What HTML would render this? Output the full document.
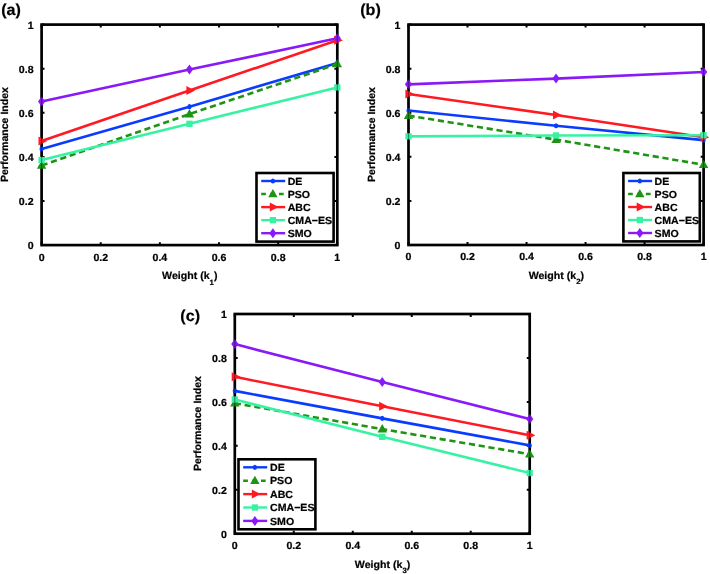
<!DOCTYPE html>
<html><head><meta charset="utf-8"><title>Performance Index</title>
<style>
html,body{margin:0;padding:0;background:#fff;}
body{width:710px;height:574px;overflow:hidden;}
svg{display:block;filter:blur(0.45px);}
text{font-family:'Liberation Sans', Arial, Helvetica, sans-serif;font-weight:bold;fill:#000;stroke:#000;stroke-width:0.22px;text-rendering:geometricPrecision;}
.t{font-size:10.4px;}
.l{font-size:10.4px;}
.k{font-size:10.4px;}
.g{font-size:15.8px;}
</style></head><body>
<svg width="710" height="574" viewBox="0 0 710 574">
<rect width="710" height="574" fill="#fff"/>
<rect x="41.6" y="24.6" width="295.7" height="220.5" fill="none" stroke="#000" stroke-width="2.7"/>
<path d="M41.60 245.1v-2.9M41.60 24.6v2.9M41.6 245.10h2.9M337.3 245.10h-2.9" stroke="#000" stroke-width="2.0" fill="none"/>
<text transform="translate(41.60 260.50) scale(1.02 1)" text-anchor="middle" class="t">0</text>
<text transform="translate(33.60 249.40) scale(1.02 1)" text-anchor="end" class="t">0</text>
<path d="M100.74 245.1v-2.9M100.74 24.6v2.9M41.6 201.00h2.9M337.3 201.00h-2.9" stroke="#000" stroke-width="2.0" fill="none"/>
<text transform="translate(100.74 260.50) scale(1.02 1)" text-anchor="middle" class="t">0.2</text>
<text transform="translate(33.60 205.30) scale(1.02 1)" text-anchor="end" class="t">0.2</text>
<path d="M159.88 245.1v-2.9M159.88 24.6v2.9M41.6 156.90h2.9M337.3 156.90h-2.9" stroke="#000" stroke-width="2.0" fill="none"/>
<text transform="translate(159.88 260.50) scale(1.02 1)" text-anchor="middle" class="t">0.4</text>
<text transform="translate(33.60 161.20) scale(1.02 1)" text-anchor="end" class="t">0.4</text>
<path d="M219.02 245.1v-2.9M219.02 24.6v2.9M41.6 112.80h2.9M337.3 112.80h-2.9" stroke="#000" stroke-width="2.0" fill="none"/>
<text transform="translate(219.02 260.50) scale(1.02 1)" text-anchor="middle" class="t">0.6</text>
<text transform="translate(33.60 117.10) scale(1.02 1)" text-anchor="end" class="t">0.6</text>
<path d="M278.16 245.1v-2.9M278.16 24.6v2.9M41.6 68.70h2.9M337.3 68.70h-2.9" stroke="#000" stroke-width="2.0" fill="none"/>
<text transform="translate(278.16 260.50) scale(1.02 1)" text-anchor="middle" class="t">0.8</text>
<text transform="translate(33.60 73.00) scale(1.02 1)" text-anchor="end" class="t">0.8</text>
<path d="M337.30 245.1v-2.9M337.30 24.6v2.9M41.6 24.60h2.9M337.3 24.60h-2.9" stroke="#000" stroke-width="2.0" fill="none"/>
<text transform="translate(337.30 260.50) scale(1.02 1)" text-anchor="middle" class="t">1</text>
<text transform="translate(33.60 28.90) scale(1.02 1)" text-anchor="end" class="t">1</text>
<polyline points="41.60,148.96 189.45,106.63 337.30,62.97" fill="none" stroke="#0a3cff" stroke-width="2.6"/>
<polyline points="41.60,165.50 189.45,114.12 337.30,64.07" fill="none" stroke="#1f9414" stroke-width="2.6" stroke-dasharray="6.2 3.7"/>
<polyline points="41.60,141.02 189.45,90.53 337.30,40.26" fill="none" stroke="#ff1a22" stroke-width="2.6"/>
<polyline points="41.60,159.99 189.45,123.82 337.30,87.44" fill="none" stroke="#38f2a4" stroke-width="2.6"/>
<polyline points="41.60,101.55 189.45,69.58 337.30,38.27" fill="none" stroke="#8a19f7" stroke-width="2.6"/>
<ellipse cx="41.60" cy="148.96" rx="2.10" ry="2.60" fill="#0a3cff"/>
<ellipse cx="189.45" cy="106.63" rx="2.10" ry="2.60" fill="#0a3cff"/>
<ellipse cx="337.30" cy="62.97" rx="2.10" ry="2.60" fill="#0a3cff"/>
<path d="M36.90 168.80L41.60 160.50L46.30 168.80Z" fill="#1f9414"/>
<path d="M184.75 117.42L189.45 109.12L194.15 117.42Z" fill="#1f9414"/>
<path d="M332.60 67.37L337.30 59.07L342.00 67.37Z" fill="#1f9414"/>
<path d="M38.50 136.52L47.20 141.02L38.50 145.52Z" fill="#ff1a22"/>
<path d="M186.35 86.03L195.05 90.53L186.35 95.03Z" fill="#ff1a22"/>
<path d="M334.20 35.76L342.90 40.26L334.20 44.76Z" fill="#ff1a22"/>
<rect x="38.45" y="156.84" width="6.30" height="6.30" fill="#38f2a4"/>
<rect x="186.30" y="120.67" width="6.30" height="6.30" fill="#38f2a4"/>
<rect x="334.15" y="84.29" width="6.30" height="6.30" fill="#38f2a4"/>
<path d="M38.00 101.55L41.60 96.55L45.20 101.55L41.60 106.55Z" fill="#8a19f7"/>
<path d="M185.85 69.58L189.45 64.58L193.05 69.58L189.45 74.58Z" fill="#8a19f7"/>
<path d="M333.70 38.27L337.30 33.27L340.90 38.27L337.30 43.27Z" fill="#8a19f7"/>
<path d="M41.6 24.6V245.1M337.3 24.6V245.1" stroke="#000" stroke-opacity="0.4" stroke-width="1.2" fill="none"/>
<text transform="translate(189.75 279.10) scale(1.02 1)" text-anchor="middle" class="l">Weight (k<tspan dy="5.4" font-size="7.6">1</tspan><tspan dy="-5.4">)</tspan></text>
<text transform="translate(7.80 134.55) rotate(-90) scale(1.015 1)" text-anchor="middle" class="l">Performance Index</text>
<text transform="translate(1.20 15.30) scale(1.02 1)" text-anchor="start" class="g">(a)</text>
<rect x="256.5" y="173.0" width="77.10000000000002" height="68.6" fill="#fff" stroke="#000" stroke-width="2.6"/>
<path d="M261.20 181.00H285.20" stroke="#0a3cff" stroke-width="2.4" fill="none"/>
<ellipse cx="272.90" cy="181.00" rx="2.10" ry="2.60" fill="#0a3cff"/>
<text transform="translate(287.70 184.70) scale(1.02 1)" text-anchor="start" class="k">DE</text>
<path d="M261.20 194.05H285.20" stroke="#1f9414" stroke-width="2.4" stroke-dasharray="4.7 4.2" fill="none"/>
<path d="M268.20 197.35L272.90 189.05L277.60 197.35Z" fill="#1f9414"/>
<text transform="translate(287.70 197.75) scale(1.02 1)" text-anchor="start" class="k">PSO</text>
<path d="M261.20 207.10H285.20" stroke="#ff1a22" stroke-width="2.4" fill="none"/>
<path d="M269.80 202.60L278.50 207.10L269.80 211.60Z" fill="#ff1a22"/>
<text transform="translate(287.70 210.80) scale(1.02 1)" text-anchor="start" class="k">ABC</text>
<path d="M261.20 220.15H285.20" stroke="#38f2a4" stroke-width="2.4" fill="none"/>
<rect x="269.75" y="217.00" width="6.30" height="6.30" fill="#38f2a4"/>
<text transform="translate(287.70 223.85) scale(1.02 1)" text-anchor="start" class="k">CMA−ES</text>
<path d="M261.20 233.20H285.20" stroke="#8a19f7" stroke-width="2.4" fill="none"/>
<path d="M269.30 233.20L272.90 228.20L276.50 233.20L272.90 238.20Z" fill="#8a19f7"/>
<text transform="translate(287.70 236.90) scale(1.02 1)" text-anchor="start" class="k">SMO</text>
<rect x="408.5" y="24.6" width="295.1" height="220.4" fill="none" stroke="#000" stroke-width="2.7"/>
<path d="M408.50 245.0v-2.9M408.50 24.6v2.9M408.5 245.00h2.9M703.6 245.00h-2.9" stroke="#000" stroke-width="2.0" fill="none"/>
<text transform="translate(408.50 260.40) scale(1.02 1)" text-anchor="middle" class="t">0</text>
<text transform="translate(400.50 249.30) scale(1.02 1)" text-anchor="end" class="t">0</text>
<path d="M467.52 245.0v-2.9M467.52 24.6v2.9M408.5 200.92h2.9M703.6 200.92h-2.9" stroke="#000" stroke-width="2.0" fill="none"/>
<text transform="translate(467.52 260.40) scale(1.02 1)" text-anchor="middle" class="t">0.2</text>
<text transform="translate(400.50 205.22) scale(1.02 1)" text-anchor="end" class="t">0.2</text>
<path d="M526.54 245.0v-2.9M526.54 24.6v2.9M408.5 156.84h2.9M703.6 156.84h-2.9" stroke="#000" stroke-width="2.0" fill="none"/>
<text transform="translate(526.54 260.40) scale(1.02 1)" text-anchor="middle" class="t">0.4</text>
<text transform="translate(400.50 161.14) scale(1.02 1)" text-anchor="end" class="t">0.4</text>
<path d="M585.56 245.0v-2.9M585.56 24.6v2.9M408.5 112.76h2.9M703.6 112.76h-2.9" stroke="#000" stroke-width="2.0" fill="none"/>
<text transform="translate(585.56 260.40) scale(1.02 1)" text-anchor="middle" class="t">0.6</text>
<text transform="translate(400.50 117.06) scale(1.02 1)" text-anchor="end" class="t">0.6</text>
<path d="M644.58 245.0v-2.9M644.58 24.6v2.9M408.5 68.68h2.9M703.6 68.68h-2.9" stroke="#000" stroke-width="2.0" fill="none"/>
<text transform="translate(644.58 260.40) scale(1.02 1)" text-anchor="middle" class="t">0.8</text>
<text transform="translate(400.50 72.98) scale(1.02 1)" text-anchor="end" class="t">0.8</text>
<path d="M703.60 245.0v-2.9M703.60 24.6v2.9M408.5 24.60h2.9M703.6 24.60h-2.9" stroke="#000" stroke-width="2.0" fill="none"/>
<text transform="translate(703.60 260.40) scale(1.02 1)" text-anchor="middle" class="t">1</text>
<text transform="translate(400.50 28.90) scale(1.02 1)" text-anchor="end" class="t">1</text>
<polyline points="408.50,110.56 556.05,125.76 703.60,140.09" fill="none" stroke="#0a3cff" stroke-width="2.6"/>
<polyline points="408.50,115.63 556.05,139.65 703.60,164.77" fill="none" stroke="#1f9414" stroke-width="2.6" stroke-dasharray="6.2 3.7"/>
<polyline points="408.50,94.03 556.05,114.96 703.60,137.22" fill="none" stroke="#ff1a22" stroke-width="2.6"/>
<polyline points="408.50,136.34 556.05,135.46 703.60,135.24" fill="none" stroke="#38f2a4" stroke-width="2.6"/>
<polyline points="408.50,84.33 556.05,78.60 703.60,71.99" fill="none" stroke="#8a19f7" stroke-width="2.6"/>
<ellipse cx="408.50" cy="110.56" rx="2.10" ry="2.60" fill="#0a3cff"/>
<ellipse cx="556.05" cy="125.76" rx="2.10" ry="2.60" fill="#0a3cff"/>
<ellipse cx="703.60" cy="140.09" rx="2.10" ry="2.60" fill="#0a3cff"/>
<path d="M403.80 118.93L408.50 110.63L413.20 118.93Z" fill="#1f9414"/>
<path d="M551.35 142.95L556.05 134.65L560.75 142.95Z" fill="#1f9414"/>
<path d="M698.90 168.07L703.60 159.77L708.30 168.07Z" fill="#1f9414"/>
<path d="M405.40 89.53L414.10 94.03L405.40 98.53Z" fill="#ff1a22"/>
<path d="M552.95 110.46L561.65 114.96L552.95 119.46Z" fill="#ff1a22"/>
<path d="M700.50 132.72L709.20 137.22L700.50 141.72Z" fill="#ff1a22"/>
<rect x="405.35" y="133.19" width="6.30" height="6.30" fill="#38f2a4"/>
<rect x="552.90" y="132.31" width="6.30" height="6.30" fill="#38f2a4"/>
<rect x="700.45" y="132.09" width="6.30" height="6.30" fill="#38f2a4"/>
<path d="M404.90 84.33L408.50 79.33L412.10 84.33L408.50 89.33Z" fill="#8a19f7"/>
<path d="M552.45 78.60L556.05 73.60L559.65 78.60L556.05 83.60Z" fill="#8a19f7"/>
<path d="M700.00 71.99L703.60 66.99L707.20 71.99L703.60 76.99Z" fill="#8a19f7"/>
<path d="M408.5 24.6V245.0M703.6 24.6V245.0" stroke="#000" stroke-opacity="0.4" stroke-width="1.2" fill="none"/>
<text transform="translate(556.35 279.00) scale(1.02 1)" text-anchor="middle" class="l">Weight (k<tspan dy="5.4" font-size="7.6">2</tspan><tspan dy="-5.4">)</tspan></text>
<text transform="translate(374.70 134.50) rotate(-90) scale(1.015 1)" text-anchor="middle" class="l">Performance Index</text>
<text transform="translate(360.20 15.30) scale(1.02 1)" text-anchor="start" class="g">(b)</text>
<rect x="623.4" y="173.0" width="76.39999999999998" height="68.4" fill="#fff" stroke="#000" stroke-width="2.6"/>
<path d="M628.10 181.00H652.10" stroke="#0a3cff" stroke-width="2.4" fill="none"/>
<ellipse cx="639.80" cy="181.00" rx="2.10" ry="2.60" fill="#0a3cff"/>
<text transform="translate(654.60 184.70) scale(1.02 1)" text-anchor="start" class="k">DE</text>
<path d="M628.10 194.00H652.10" stroke="#1f9414" stroke-width="2.4" stroke-dasharray="4.7 4.2" fill="none"/>
<path d="M635.10 197.30L639.80 189.00L644.50 197.30Z" fill="#1f9414"/>
<text transform="translate(654.60 197.70) scale(1.02 1)" text-anchor="start" class="k">PSO</text>
<path d="M628.10 207.00H652.10" stroke="#ff1a22" stroke-width="2.4" fill="none"/>
<path d="M636.70 202.50L645.40 207.00L636.70 211.50Z" fill="#ff1a22"/>
<text transform="translate(654.60 210.70) scale(1.02 1)" text-anchor="start" class="k">ABC</text>
<path d="M628.10 220.00H652.10" stroke="#38f2a4" stroke-width="2.4" fill="none"/>
<rect x="636.65" y="216.85" width="6.30" height="6.30" fill="#38f2a4"/>
<text transform="translate(654.60 223.70) scale(1.02 1)" text-anchor="start" class="k">CMA−ES</text>
<path d="M628.10 233.00H652.10" stroke="#8a19f7" stroke-width="2.4" fill="none"/>
<path d="M636.20 233.00L639.80 228.00L643.40 233.00L639.80 238.00Z" fill="#8a19f7"/>
<text transform="translate(654.60 236.70) scale(1.02 1)" text-anchor="start" class="k">SMO</text>
<rect x="234.8" y="314.0" width="294.90000000000003" height="219.70000000000005" fill="none" stroke="#000" stroke-width="2.7"/>
<path d="M234.80 533.7v-2.9M234.80 314.0v2.9M234.8 533.70h2.9M529.7 533.70h-2.9" stroke="#000" stroke-width="2.0" fill="none"/>
<text transform="translate(234.80 549.10) scale(1.02 1)" text-anchor="middle" class="t">0</text>
<text transform="translate(226.80 538.00) scale(1.02 1)" text-anchor="end" class="t">0</text>
<path d="M293.78 533.7v-2.9M293.78 314.0v2.9M234.8 489.76h2.9M529.7 489.76h-2.9" stroke="#000" stroke-width="2.0" fill="none"/>
<text transform="translate(293.78 549.10) scale(1.02 1)" text-anchor="middle" class="t">0.2</text>
<text transform="translate(226.80 494.06) scale(1.02 1)" text-anchor="end" class="t">0.2</text>
<path d="M352.76 533.7v-2.9M352.76 314.0v2.9M234.8 445.82h2.9M529.7 445.82h-2.9" stroke="#000" stroke-width="2.0" fill="none"/>
<text transform="translate(352.76 549.10) scale(1.02 1)" text-anchor="middle" class="t">0.4</text>
<text transform="translate(226.80 450.12) scale(1.02 1)" text-anchor="end" class="t">0.4</text>
<path d="M411.74 533.7v-2.9M411.74 314.0v2.9M234.8 401.88h2.9M529.7 401.88h-2.9" stroke="#000" stroke-width="2.0" fill="none"/>
<text transform="translate(411.74 549.10) scale(1.02 1)" text-anchor="middle" class="t">0.6</text>
<text transform="translate(226.80 406.18) scale(1.02 1)" text-anchor="end" class="t">0.6</text>
<path d="M470.72 533.7v-2.9M470.72 314.0v2.9M234.8 357.94h2.9M529.7 357.94h-2.9" stroke="#000" stroke-width="2.0" fill="none"/>
<text transform="translate(470.72 549.10) scale(1.02 1)" text-anchor="middle" class="t">0.8</text>
<text transform="translate(226.80 362.24) scale(1.02 1)" text-anchor="end" class="t">0.8</text>
<path d="M529.70 533.7v-2.9M529.70 314.0v2.9M234.8 314.00h2.9M529.7 314.00h-2.9" stroke="#000" stroke-width="2.0" fill="none"/>
<text transform="translate(529.70 549.10) scale(1.02 1)" text-anchor="middle" class="t">1</text>
<text transform="translate(226.80 318.30) scale(1.02 1)" text-anchor="end" class="t">1</text>
<polyline points="234.80,390.89 382.25,418.36 529.70,445.38" fill="none" stroke="#0a3cff" stroke-width="2.6"/>
<polyline points="234.80,403.20 382.25,429.12 529.70,454.17" fill="none" stroke="#1f9414" stroke-width="2.6" stroke-dasharray="6.2 3.7"/>
<polyline points="234.80,376.83 382.25,406.27 529.70,435.27" fill="none" stroke="#ff1a22" stroke-width="2.6"/>
<polyline points="234.80,399.46 382.25,436.81 529.70,473.06" fill="none" stroke="#38f2a4" stroke-width="2.6"/>
<polyline points="234.80,344.10 382.25,382.11 529.70,419.02" fill="none" stroke="#8a19f7" stroke-width="2.6"/>
<ellipse cx="234.80" cy="390.89" rx="2.10" ry="2.60" fill="#0a3cff"/>
<ellipse cx="382.25" cy="418.36" rx="2.10" ry="2.60" fill="#0a3cff"/>
<ellipse cx="529.70" cy="445.38" rx="2.10" ry="2.60" fill="#0a3cff"/>
<path d="M230.10 406.50L234.80 398.20L239.50 406.50Z" fill="#1f9414"/>
<path d="M377.55 432.42L382.25 424.12L386.95 432.42Z" fill="#1f9414"/>
<path d="M525.00 457.47L529.70 449.17L534.40 457.47Z" fill="#1f9414"/>
<path d="M231.70 372.33L240.40 376.83L231.70 381.33Z" fill="#ff1a22"/>
<path d="M379.15 401.77L387.85 406.27L379.15 410.77Z" fill="#ff1a22"/>
<path d="M526.60 430.77L535.30 435.27L526.60 439.77Z" fill="#ff1a22"/>
<rect x="231.65" y="396.31" width="6.30" height="6.30" fill="#38f2a4"/>
<rect x="379.10" y="433.66" width="6.30" height="6.30" fill="#38f2a4"/>
<rect x="526.55" y="469.91" width="6.30" height="6.30" fill="#38f2a4"/>
<path d="M231.20 344.10L234.80 339.10L238.40 344.10L234.80 349.10Z" fill="#8a19f7"/>
<path d="M378.65 382.11L382.25 377.11L385.85 382.11L382.25 387.11Z" fill="#8a19f7"/>
<path d="M526.10 419.02L529.70 414.02L533.30 419.02L529.70 424.02Z" fill="#8a19f7"/>
<path d="M234.8 314.0V533.7M529.7 314.0V533.7" stroke="#000" stroke-opacity="0.4" stroke-width="1.2" fill="none"/>
<text transform="translate(382.55 567.70) scale(1.02 1)" text-anchor="middle" class="l">Weight (k<tspan dy="5.4" font-size="7.6">3</tspan><tspan dy="-5.4">)</tspan></text>
<text transform="translate(201.00 423.55) rotate(-90) scale(1.015 1)" text-anchor="middle" class="l">Performance Index</text>
<text transform="translate(180.30 320.50) scale(1.02 1)" text-anchor="start" class="g">(c)</text>
<rect x="238.5" y="459.3" width="76.89999999999998" height="69.99999999999994" fill="#fff" stroke="#000" stroke-width="2.6"/>
<path d="M243.20 467.30H267.20" stroke="#0a3cff" stroke-width="2.4" fill="none"/>
<ellipse cx="254.90" cy="467.30" rx="2.10" ry="2.60" fill="#0a3cff"/>
<text transform="translate(270.00 471.00) scale(1.02 1)" text-anchor="start" class="k">DE</text>
<path d="M243.20 480.70H267.20" stroke="#1f9414" stroke-width="2.4" stroke-dasharray="4.7 4.2" fill="none"/>
<path d="M250.20 484.00L254.90 475.70L259.60 484.00Z" fill="#1f9414"/>
<text transform="translate(270.00 484.40) scale(1.02 1)" text-anchor="start" class="k">PSO</text>
<path d="M243.20 494.10H267.20" stroke="#ff1a22" stroke-width="2.4" fill="none"/>
<path d="M251.80 489.60L260.50 494.10L251.80 498.60Z" fill="#ff1a22"/>
<text transform="translate(270.00 497.80) scale(1.02 1)" text-anchor="start" class="k">ABC</text>
<path d="M243.20 507.50H267.20" stroke="#38f2a4" stroke-width="2.4" fill="none"/>
<rect x="251.75" y="504.35" width="6.30" height="6.30" fill="#38f2a4"/>
<text transform="translate(270.00 511.20) scale(1.02 1)" text-anchor="start" class="k">CMA−ES</text>
<path d="M243.20 520.90H267.20" stroke="#8a19f7" stroke-width="2.4" fill="none"/>
<path d="M251.30 520.90L254.90 515.90L258.50 520.90L254.90 525.90Z" fill="#8a19f7"/>
<text transform="translate(270.00 524.60) scale(1.02 1)" text-anchor="start" class="k">SMO</text>
</svg>
</body></html>
